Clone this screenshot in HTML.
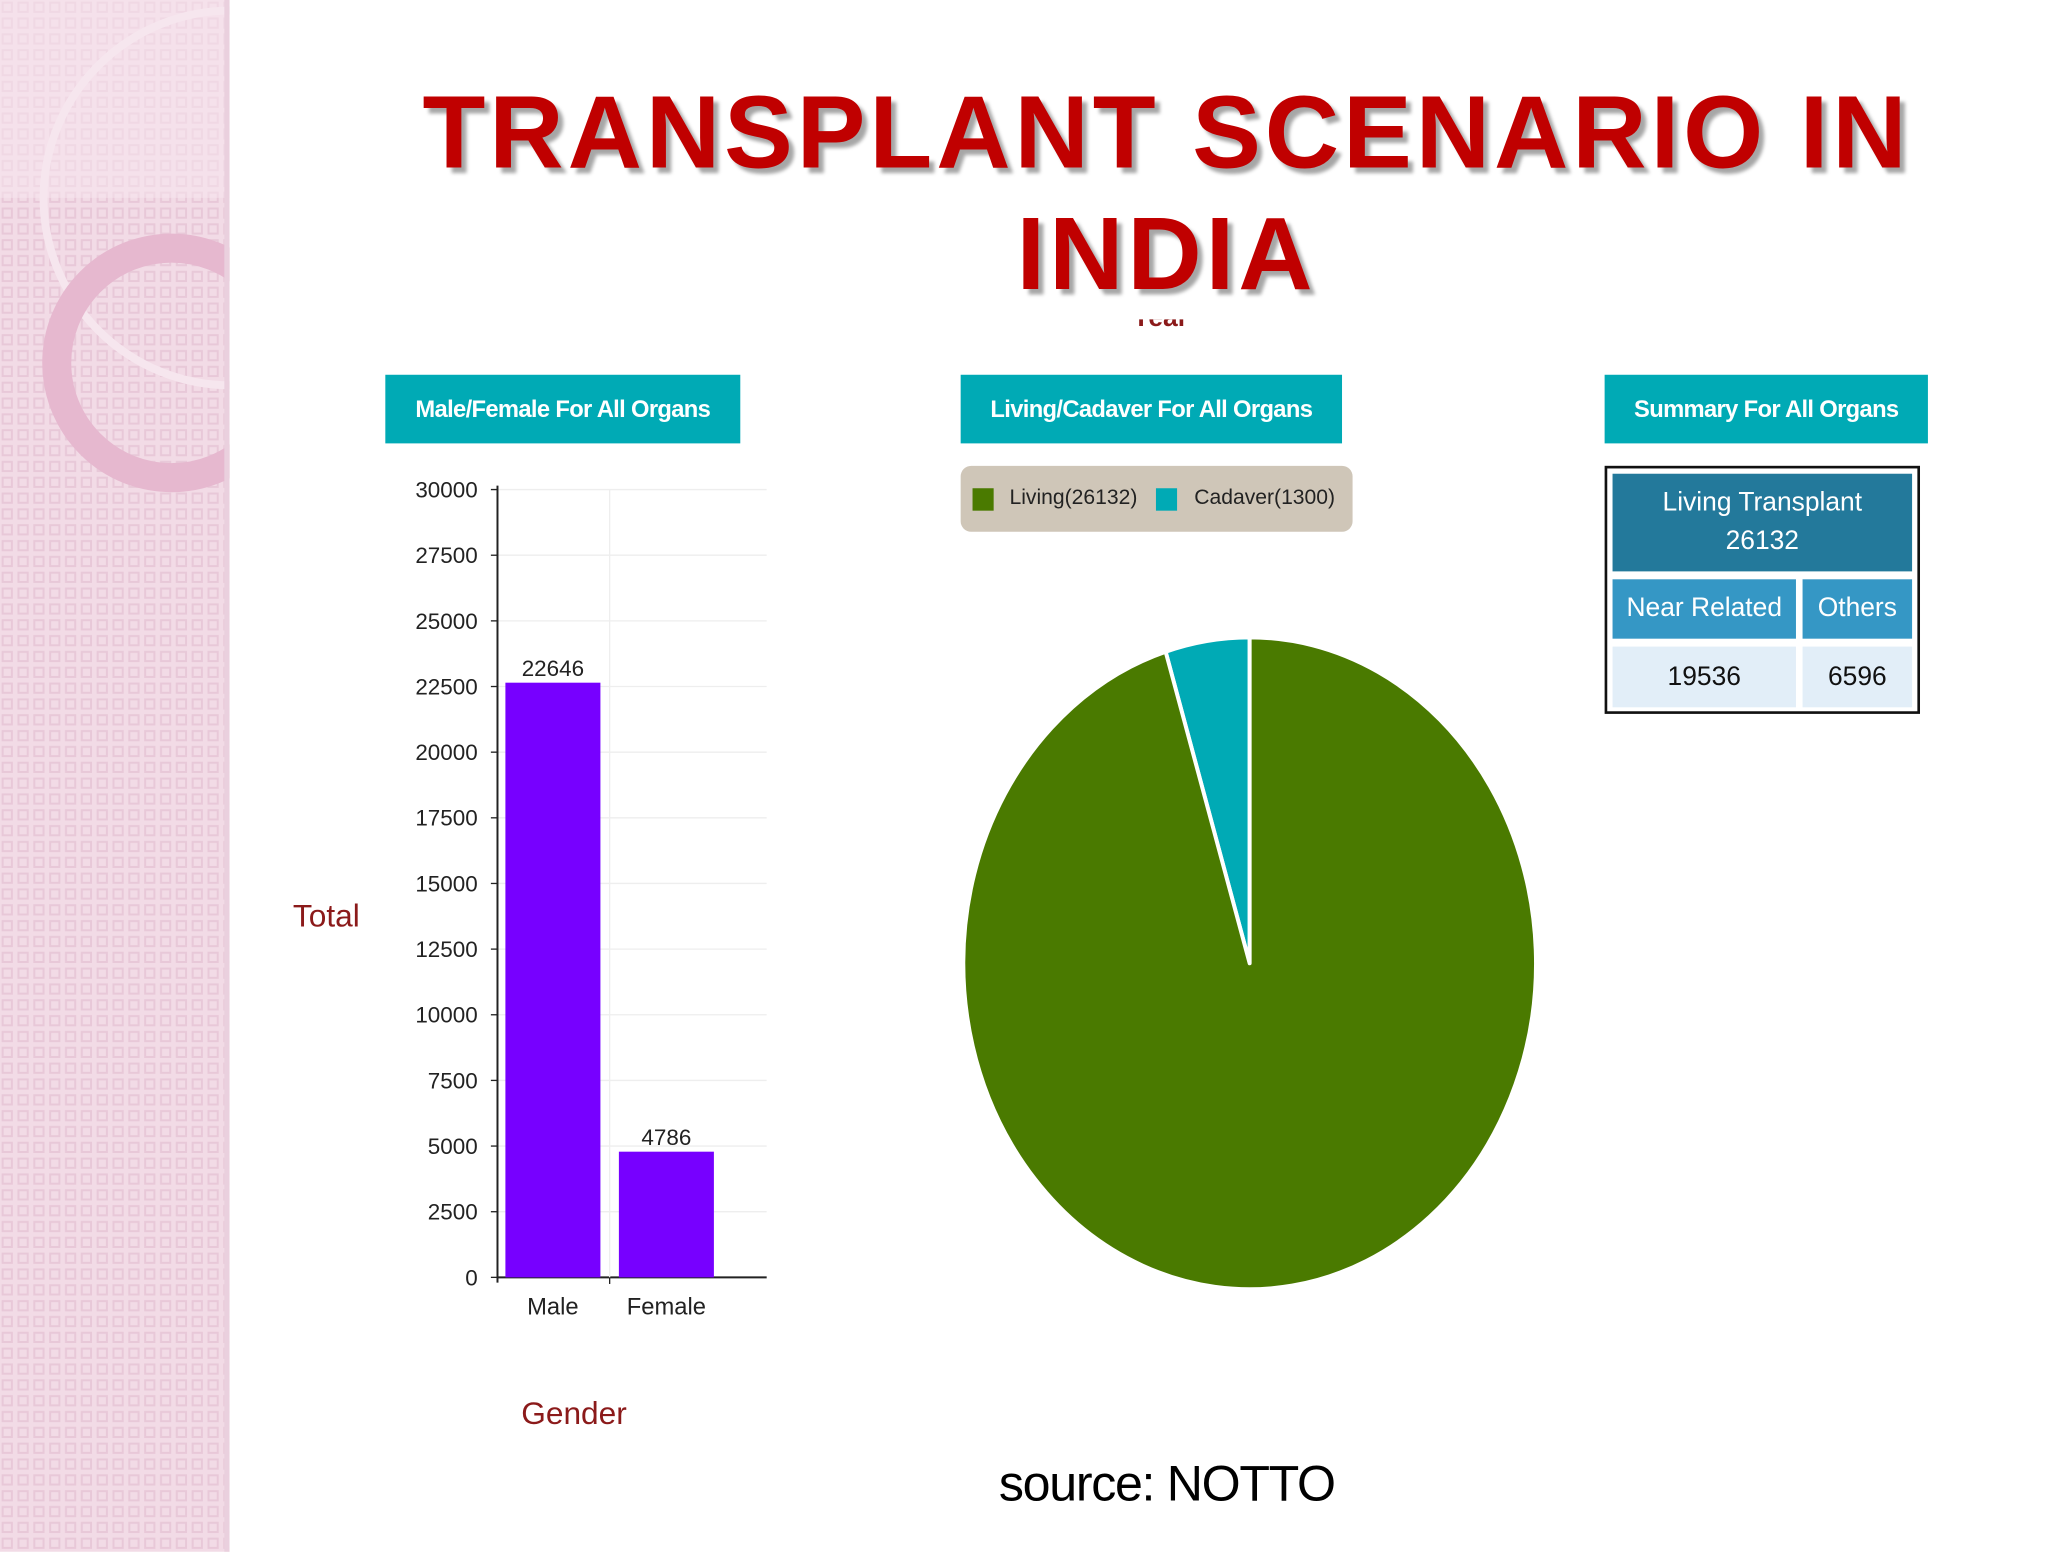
<!DOCTYPE html>
<html><head><meta charset="utf-8">
<style>
html,body{margin:0;padding:0;width:2048px;height:1536px;overflow:hidden;background:#fff}
#stage{position:absolute;left:0;top:0;width:1552px;height:1176px;transform:scale(1.31959);transform-origin:0 0;font-family:"Liberation Sans",sans-serif}
.abs{position:absolute}
.hdr{position:absolute;background:#00aab5;color:#fff;font-weight:bold;font-size:18px;display:flex;align-items:center;justify-content:center;letter-spacing:-0.5px}
.title{position:absolute;left:174px;width:1420px;text-align:center;color:#c00000;font-weight:bold;font-size:78px;letter-spacing:3px;text-shadow:4px 4px 3px rgba(0,0,0,0.35)}
.cell{position:absolute;display:flex;align-items:center;justify-content:center;font-size:20px;text-align:center}
</style></head><body>
<div id="stage">
  <svg class="abs" style="left:0;top:0" width="174" height="1176">
    <defs><pattern id="pt" width="12" height="12" patternUnits="userSpaceOnUse"><rect width="12" height="12" fill="#f2dbe6"/><rect x="2" y="2" width="7" height="7" fill="none" stroke="#e8c8d8" stroke-width="1.5"/></pattern></defs>
    <rect width="174" height="1176" fill="url(#pt)"/>
    <rect x="0" y="0" width="174" height="150" fill="#f8e8f0" opacity="0.5"/>
    <circle cx="175" cy="150" r="142" fill="none" stroke="#f6e6ee" stroke-width="6"/>
    <circle cx="130" cy="275" r="87" fill="none" stroke="#e6b8cf" stroke-width="22"/>
    <rect x="170" y="0" width="4" height="1176" fill="#ead0de"/>
  </svg>

  <div class="title" style="top:55px">TRANSPLANT SCENARIO IN</div>
  <div class="title" style="top:147px">INDIA</div>
  <div class="abs" style="left:858px;top:242px;font-size:20px;font-weight:bold;color:#8b1a1a;height:10px;overflow:hidden"><span style="position:relative;top:-12px">Year</span></div>

  <div class="hdr" style="left:292px;top:284px;width:269px;height:52px">Male/Female For All Organs</div>
  <div class="hdr" style="left:728px;top:284px;width:289px;height:52px">Living/Cadaver For All Organs</div>
  <div class="hdr" style="left:1216px;top:284px;width:245px;height:52px">Summary For All Organs</div>

  <svg id="bar" class="abs" style="left:200px;top:350px" width="420" height="760"></svg>

  <div class="abs" style="left:728px;top:353px;width:297px;height:50px;background:#cfc6b8;border-radius:8px">
    <div class="abs" style="left:9px;top:17px;width:16px;height:17px;background:#4a7a00"></div>
    <div class="abs" style="left:37px;top:16px;font-size:16px;color:#222">Living(26132)</div>
    <div class="abs" style="left:148px;top:17px;width:16px;height:17px;background:#00aab5"></div>
    <div class="abs" style="left:177px;top:16px;font-size:16px;color:#222">Cadaver(1300)</div>
  </div>

  <svg id="pie" class="abs" style="left:700px;top:460px" width="500" height="540"></svg>

  <div class="abs" style="left:1216px;top:353px;width:235px;height:184px;border:2px solid #111">
    <div class="cell" style="left:4px;top:4px;width:227px;height:74px;background:#23799b;color:#fff;line-height:29px">Living Transplant<br>26132</div>
    <div class="cell" style="left:4px;top:84px;width:139px;height:45px;background:#3597c5;color:#fff">Near Related</div>
    <div class="cell" style="left:148px;top:84px;width:83px;height:45px;background:#3597c5;color:#fff">Others</div>
    <div class="cell" style="left:4px;top:135px;width:139px;height:46px;background:#e2eef8;color:#111">19536</div>
    <div class="cell" style="left:148px;top:135px;width:83px;height:46px;background:#e2eef8;color:#111">6596</div>
  </div>

  <div class="abs" style="left:757px;top:1104px;font-size:38px;color:#000;letter-spacing:-1px">source: NOTTO</div>
</div>
<script>
const NS="http://www.w3.org/2000/svg";
const barCats=["Male","Female"];
const barVals=[22646,4786];
const yTicks=[0,2500,5000,7500,10000,12500,15000,17500,20000,22500,25000,27500,30000];
const pieLabels=["Cadaver","Living"];
const pieVals=[1300,26132];
function mk(p,t,a,txt){const e=document.createElementNS(NS,t);for(const k in a)e.setAttribute(k,a[k]);if(txt!==undefined)e.textContent=txt;p.appendChild(e);return e;}
const bar=document.getElementById('bar');
const x0=177,x1=381,yb=618,yt=21,ymax=30000;
const ys=v=>yb-(v/ymax)*(yb-yt);
const bw=72, slot=(x1-x0)/barCats.length;
const xs=i=>x0+6+i*(slot-16);
yTicks.forEach(v=>{
  const g=mk(bar,'line',{x1:x0,x2:x1,y1:ys(v),y2:ys(v),stroke:v?'#eee':'#222','stroke-width':v?1:1.5});
  
  
  mk(bar,'line',{x1:x0-5,x2:x0,y1:ys(v),y2:ys(v),stroke:'#222'});
  const t=mk(bar,'text',{x:x0-15,y:ys(v)+6,'text-anchor':'end','font-size':'17','fill':'#222','font-family':'Liberation Sans'},v);
  
  
});
mk(bar,'line',{x1:262,x2:262,y1:yt,y2:yb,stroke:'#eee'});
mk(bar,'line',{x1:x0,x2:x0,y1:yt-3,y2:yb+4,stroke:'#222','stroke-width':1.5});
mk(bar,'line',{x1:262,x2:262,y1:yb,y2:yb+5,stroke:'#222'});
barCats.forEach((c,i)=>{
  const x=xs(i);
  const r=mk(bar,'rect',{x:x,y:ys(barVals[i]),width:bw,height:yb-ys(barVals[i]),fill:'#7700ff'});
  
  
  const l=mk(bar,'text',{x:x+bw/2,y:ys(barVals[i])-5,'text-anchor':'middle','font-size':'17',fill:'#222'},barVals[i]);
  
  
  const cl=mk(bar,'text',{x:x+bw/2,y:yb+28,'text-anchor':'middle','font-size':'18',fill:'#222'},c);
  
  
});
const yt1=mk(bar,'text',{x:22,y:352,'font-size':'24',fill:'#8b1a1a'},'Total');


const xt1=mk(bar,'text',{x:235,y:729,'text-anchor':'middle','font-size':'24',fill:'#8b1a1a'},'Gender');


const pie=document.getElementById('pie');
const cx=247,cy=270,rx=217,ry=247;
const total=pieVals.reduce((a,b)=>a+b,0);
const colors=["#00aab5","#4a7a00"];
let a=0;
pieVals.forEach((v,i)=>{
  const a2=a-v/total*2*Math.PI;
  const p=t=>[cx+rx*Math.sin(t),cy-ry*Math.cos(t)];
  const [sx,sy]=p(a),[ex,ey]=p(a2);
  const large=(v/total)>0.5?1:0;
  const path=mk(pie,'path',{d:`M${cx},${cy} L${sx},${sy} A${rx},${ry} 0 ${large} 0 ${ex},${ey} Z`,fill:colors[i],stroke:'#fff','stroke-width':3,'stroke-linejoin':'round'});
  
  
  a=a2;
});
</script>
</body></html>
